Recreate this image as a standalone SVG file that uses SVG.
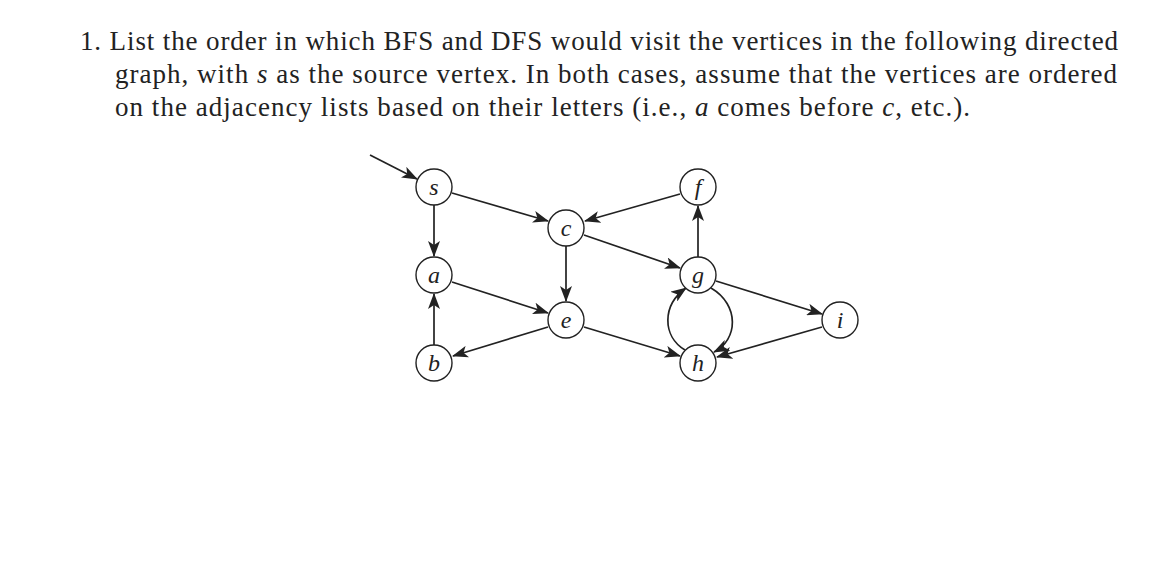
<svg xmlns="http://www.w3.org/2000/svg" width="1158" height="575" viewBox="0 0 1158 575">
<style>
.t{font-family:"Liberation Serif",serif;font-size:27px;fill:#222}
.n circle{fill:#fff;stroke:#222;stroke-width:1.4}
.n text{font-family:"Liberation Serif",serif;font-style:italic;font-size:24px;text-anchor:middle;fill:#222}
.e line,.e path{stroke:#222;stroke-width:1.7;fill:none;marker-end:url(#ar)}
</style>
<defs><marker id="ar" viewBox="0 0 16 12" refX="15" refY="6" markerWidth="16" markerHeight="12" markerUnits="userSpaceOnUse" orient="auto"><path d="M0,0 L16,6 L0,12 L4,6 z" fill="#222"/></marker></defs>
<rect width="1158" height="575" fill="#fff"/>
<text class="t" x="80" y="50" textLength="1038" lengthAdjust="spacing">1. List the order in which BFS and DFS would visit the vertices in the following directed</text>
<text class="t" x="115" y="83" textLength="1002" lengthAdjust="spacing">graph, with <tspan font-style="italic">s</tspan> as the source vertex. In both cases, assume that the vertices are ordered</text>
<text class="t" x="115" y="116" textLength="855" lengthAdjust="spacing">on the adjacency lists based on their letters (i.e., <tspan font-style="italic">a</tspan> comes before <tspan font-style="italic">c</tspan>, etc.).</text>
<g class="e">
<line x1="370" y1="155" x2="417" y2="179"/>
<line x1="452" y1="193" x2="548" y2="221"/>
<line x1="434" y1="205" x2="434" y2="256"/>
<line x1="680" y1="194" x2="585" y2="221"/>
<line x1="566" y1="246" x2="566" y2="301"/>
<line x1="584" y1="235" x2="680" y2="268"/>
<line x1="452" y1="282" x2="548" y2="313"/>
<line x1="434" y1="345" x2="434" y2="294"/>
<line x1="548" y1="327" x2="453" y2="356"/>
<line x1="584" y1="327" x2="680" y2="356"/>
<line x1="698" y1="257" x2="698" y2="206"/>
<line x1="716" y1="281" x2="822" y2="314"/>
<line x1="822" y1="327" x2="717" y2="357"/>
<path d="M711,288 C740,305 738,340 714,352"/>
<path d="M685,350 C662,336 662,305 686,288"/>
</g>
<g class="n" id="s"><circle cx="434" cy="187" r="18"/><text x="434" y="195">s</text></g>
<g class="n" id="c"><circle cx="566" cy="228" r="18"/><text x="566" y="236">c</text></g>
<g class="n" id="f"><circle cx="698" cy="187" r="18"/><text x="698" y="195">f</text></g>
<g class="n" id="a"><circle cx="434" cy="275" r="18"/><text x="434" y="283">a</text></g>
<g class="n" id="g"><circle cx="698" cy="275" r="18"/><text x="698" y="283">g</text></g>
<g class="n" id="e"><circle cx="566" cy="320" r="18"/><text x="566" y="328">e</text></g>
<g class="n" id="i"><circle cx="840" cy="320" r="18"/><text x="840" y="328">i</text></g>
<g class="n" id="b"><circle cx="434" cy="363" r="18"/><text x="434" y="371">b</text></g>
<g class="n" id="h"><circle cx="698" cy="363" r="18"/><text x="698" y="371">h</text></g>
</svg>
